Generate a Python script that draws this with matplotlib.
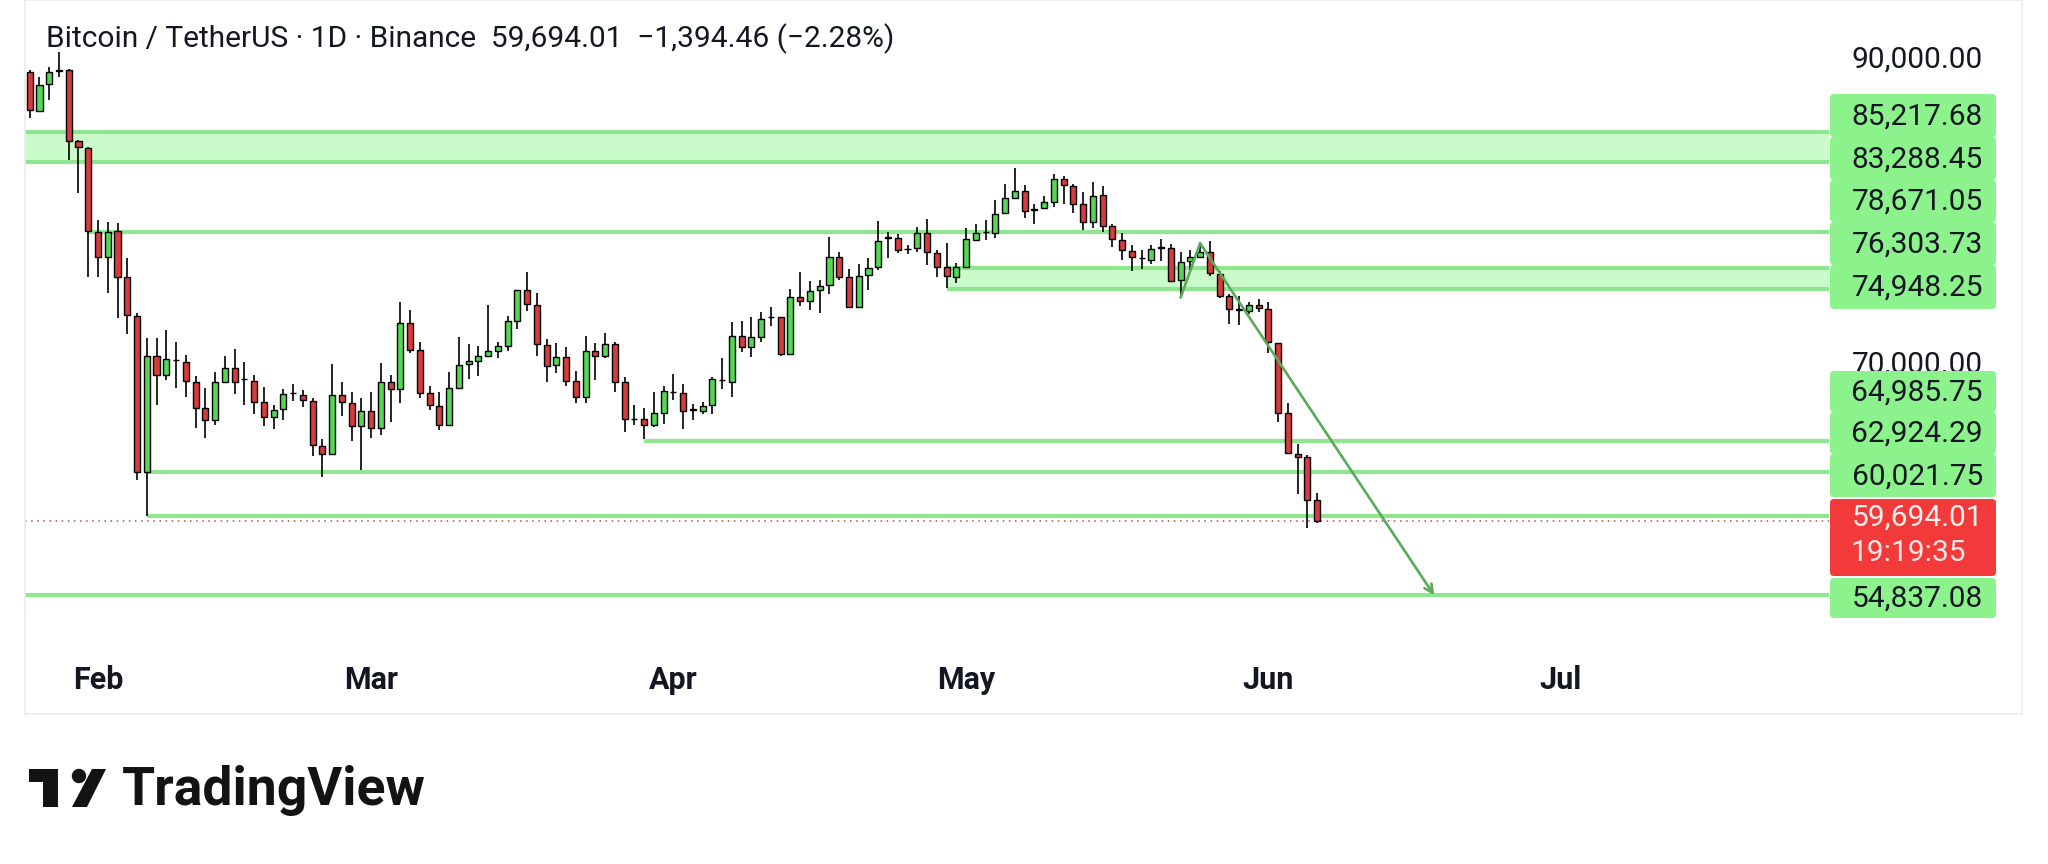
import matplotlib
matplotlib.use('Agg')
import matplotlib.pyplot as plt
from matplotlib.patches import FancyBboxPatch, Rectangle, Circle, Polygon
import matplotlib.transforms as mtransforms
import numpy as np
import pandas as pd

plt.rcParams['font.family'] = ['Roboto', 'DejaVu Sans']

# ---------------- data ----------------
start_date = '2026-01-25'
opens = [89195, 86615, 88364, 89305, 89305, 84647, 84209, 78698, 77014, 78741,
         75745, 73165, 62951, 70540, 69294, 70300, 70125, 68856, 67107, 66342,
         68856, 69775, 69050, 68902, 67503, 66518, 67043, 68093, 67984, 67612,
         64638, 64091, 67984, 67481, 65950, 66956, 65797, 68859, 68377, 72686,
         70936, 68093, 67284, 66016, 68465, 70017, 70236, 70564, 70892, 71198,
         72839, 74872, 73888, 71242, 69952, 70498, 68924, 67874, 70892, 70564,
         71308, 68815, 66420, 66387, 65993, 66824, 68202, 68092, 67000, 66955,
         67327, 68967, 68858, 71876, 71110, 71810, 73100, 73078, 70673, 74391,
         74150, 74872, 75200, 77015, 75703, 73779, 75856, 76403, 78300, 78261,
         77560, 77605, 78589, 77321, 76359, 75747, 76359, 78152, 78680, 78633,
         79902, 80930, 81389, 80150, 80230, 80667, 82154, 81717, 80492, 79355,
         81104, 79071, 78152, 77452, 76960, 76840, 77650, 77649, 75528, 76774,
         77059, 77343, 75921, 74500, 73600, 73494, 73888, 73625, 71416, 66780,
         64112, 63893, 61088.47]
highs = [89300, 88867, 89524, 90486, 89350, 84700, 84250, 79463, 79354, 79245,
         76992, 73340, 71700, 71700, 72246, 71437, 70606, 69250, 68419, 69513,
         70540, 70978, 70171, 69296, 68487, 67328, 68377, 68684, 68312, 67765,
         65075, 69996, 68859, 68203, 67765, 68203, 70105, 69296, 74064, 73561,
         71483, 68574, 68203, 69515, 71811, 71330, 71199, 73888, 71483, 73167,
         74900, 76032, 74654, 71636, 71373, 71111, 69580, 71855, 71373, 72030,
         71439, 69186, 67327, 67109, 68202, 68574, 69361, 68683, 67392, 67545,
         69186, 70389, 72795, 72838, 73122, 73451, 73779, 73078, 74916, 76075,
         75463, 75528, 78328, 77387, 76228, 76578, 76950, 79421, 78699, 78546,
         77824, 78983, 79508, 77496, 77933, 76621, 78917, 79202, 79464, 80776,
         81804, 82854, 81761, 80514, 81061, 82482, 82373, 81826, 81323, 81979,
         81695, 79202, 78589, 77824, 77496, 77824, 78196, 77868, 77387, 77496,
         77933, 78108, 76140, 74609, 74478, 74106, 74259, 74062, 71416, 67480,
         64769, 64047, 61575]
lows = [86134, 86571, 87336, 88867, 83400, 81213, 75745, 75745, 74651, 73012,
        71962, 62404, 60043, 67325, 68966, 68419, 67872, 65795, 65183, 66014,
        68800, 68026, 67328, 66737, 65950, 65731, 66344, 67612, 67218, 63981,
        62625, 64047, 66606, 64988, 63063, 65141, 65360, 66234, 67437, 70717,
        67809, 67000, 65687, 65950, 68400, 69012, 69230, 70455, 70389, 70892,
        72292, 73495, 70564, 68858, 69449, 68596, 67437, 67480, 68968, 70389,
        68202, 65578, 66015, 65075, 65906, 66059, 67655, 65731, 66343, 66736,
        66736, 68355, 67830, 70782, 70498, 71482, 72532, 70564, 70608, 73822,
        73560, 73341, 74588, 75528, 73779, 73779, 74872, 76184, 76949, 77321,
        77233, 77387, 76512, 75703, 74981, 75353, 76359, 78109, 78152, 78261,
        79858, 80820, 79574, 79202, 80186, 80339, 80492, 79902, 78808, 78961,
        78699, 77671, 76840, 76140, 76227, 76578, 76796, 75374, 74369, 76140,
        76949, 75790, 74325, 72641, 72575, 73297, 73450, 70760, 66233, 64155,
        61465, 59235, 59600]
closes = [86680, 88321, 89195, 89250, 84647, 84275, 78763, 77014, 78698, 75745,
          73231, 62951, 70540, 69294, 70322, 70250, 68900, 67150, 66342, 68856,
          69775, 68856, 69000, 67547, 66518, 67000, 68027, 68100, 67656, 64703,
          64091, 67984, 67547, 65950, 66956, 65797, 68859, 68377, 72686, 70936,
          68093, 67328, 66016, 68465, 69952, 70214, 70542, 70892, 71198, 72839,
          74872, 73932, 71308, 69908, 70498, 68924, 67874, 70892, 70564, 71308,
          68815, 66409, 66400, 65993, 66824, 68268, 68150, 66955, 67043, 67283,
          69033, 68990, 71876, 71110, 71766, 72948, 73122, 70673, 74391, 74150,
          74828, 75156, 77015, 75703, 73779, 75791, 76337, 78109, 78327, 77496,
          77540, 78589, 77387, 76359, 75790, 76359, 78196, 78633, 78699, 79836,
          80886, 81389, 80055, 80164, 80667, 82154, 81761, 80514, 79355, 81061,
          79071, 78196, 77496, 77015, 76949, 77562, 77671, 75484, 76730, 77059,
          77343, 75965, 74500, 73625, 73559, 73888, 73712, 71438, 66780, 64155,
          63937, 61088.47, 59694.01]

levels = [85217.68, 83288.45, 78671.05, 76303.73, 74948.25,
          64985.75, 62924.29, 60021.75, 54837.08]
level_start = [None, None, '2026-01-31', '2026-04-29', '2026-04-29',
               '2026-03-29', '2026-02-06', '2026-02-06', None]
bands = [(0, 1), (3, 4)]

last_price = 59694.01
change = -1394.46
change_pct = -2.28
countdown = '19:19:35'
axis_ticks = [90000, 70000]

arrow_dates = ['2026-05-23', '2026-05-25', '2026-06-18']
arrow_prices = [74369, 77933, 54837.08]

month_starts = pd.date_range('2026-02-01', '2026-07-01', freq='MS')

# ---------------- helpers ----------------
W, H, DPI = 2048, 864, 100
t0 = pd.Timestamp(start_date)


def didx(d):
    return (pd.Timestamp(d) - t0).days


GREEN_C = '#55d655'
RED_C = '#d63c3c'
LINE_G = '#8fe68f'
BAND_F = '#cafbca'
BOX_G = '#8cf38c'
BOX_R = '#f23a3a'
ARROW_G = '#5aaa5a'
TXT = '#131722'

fig = plt.figure(figsize=(W / DPI, H / DPI), dpi=DPI)
fig.patch.set_facecolor('white')

# chart pane: pixel x 25..2022, y 0..714
ax = fig.add_axes([25 / W, (H - 714) / H, (2022 - 25) / W, 714 / H])
x_left, x_right = -0.485, 204.27
ax.set_xlim(x_left, x_right)
ax.set_ylim(47048, 93899)
ax.set_xticks([])
ax.set_yticks([])
for s in ax.spines.values():
    s.set_color('#ebebeb')
    s.set_linewidth(1.2)

line_end = 184.48  # where lines meet the price scale

# bands
for a, b in bands:
    xs = x_left if level_start[a] is None else didx(level_start[a])
    ax.fill_between([xs, line_end], levels[b], levels[a], color=BAND_F, lw=0, zorder=1)

# level lines
for v, st in zip(levels, level_start):
    xs = x_left if st is None else didx(st)
    ax.hlines(v, xs, line_end, color=LINE_G, lw=3.0, zorder=2)

# current price dotted line
ax.hlines(last_price, x_left, line_end, colors='#b8503f', linestyles=(0, (1, 3)), lw=1.1, zorder=2.5)

# candles
o = np.array(opens, float)
h = np.array(highs, float)
l = np.array(lows, float)
c = np.array(closes, float)
x = np.arange(len(o))
cols = np.where(c >= o, GREEN_C, RED_C)
ax.vlines(x, l, h, color='black', lw=1.2, zorder=3)
ax.bar(x, np.abs(c - o), bottom=np.minimum(o, c), width=0.62, color=cols,
       edgecolor='black', linewidth=1.0, zorder=4)

# arrow
ax_x = [didx(d) for d in arrow_dates]
ax.plot(ax_x[:2], arrow_prices[:2], color=ARROW_G, lw=1.9, zorder=5, solid_capstyle='round')
ax.annotate('', xy=(ax_x[2], arrow_prices[2]), xytext=(ax_x[1], arrow_prices[1]),
            arrowprops=dict(arrowstyle='->,head_length=0.6,head_width=0.3', color=ARROW_G,
                            lw=1.9, shrinkA=0, shrinkB=0), zorder=5)

# month labels
tr_x = mtransforms.blended_transform_factory(ax.transData, ax.transAxes)
for ms in month_starts:
    ax.text(didx(ms), 1 - 680 / 714, ms.strftime('%b'), transform=tr_x, ha='center', va='center',
            fontsize=22, fontweight='bold', color=TXT)

# axis price ticks
tr_y = mtransforms.blended_transform_factory(ax.transAxes, ax.transData)
for tv in axis_ticks:
    ax.text((1983 - 25) / 1997, tv, f'{tv:,.2f}', transform=tr_y, ha='right', va='center',
            fontsize=21.5, color=TXT, zorder=6)

# ---------------- price label boxes (pixel layout) ----------------
ftr = fig.dpi_scale_trans


def pbox(x0, y0, x1, y1, color):
    p = FancyBboxPatch((x0 / DPI, (H - y1) / DPI), (x1 - x0) / DPI, (y1 - y0) / DPI,
                       boxstyle=f'round,pad=0,rounding_size={4 / DPI}', transform=ftr,
                       fc=color, ec='none', zorder=10)
    fig.patches.append(p)


def ptext(xp, yp, s, **kw):
    fig.text(xp / DPI, (H - yp) / DPI, s, transform=ftr, **kw)


box_rows = [(94, 137), (137, 180), (180, 222), (222, 265), (265, 309),
            (371, 412), (412, 454), (454, 497), (578, 618)]
for v, (y0, y1) in zip(levels, box_rows):
    pbox(1830, y0, 1996, y1, BOX_G)
    ptext(1983, (y0 + y1) / 2 + 1, f'{v:,.2f}', ha='right', va='center', fontsize=21.5, color=TXT, zorder=11)

pbox(1830, 499, 1996, 576, BOX_R)
ptext(1983, 518, f'{last_price:,.2f}', ha='right', va='center', fontsize=21.5, color='#fff0f0', zorder=11)
ptext(1851, 553, countdown, ha='left', va='center', fontsize=21.5, color='#ffe6e6', zorder=11)

# header
hdr = (f'Bitcoin / TetherUS · 1D · Binance  {last_price:,.2f}  '
       f'{change:,.2f} ({change_pct:.2f}%)').replace('-', '\u2212')
ptext(46, 39, hdr, ha='left', va='center', fontsize=21.5, color=TXT)

# ---------------- TradingView logo ----------------
def pxrect(x0, y0, x1, y1):
    return Rectangle((x0 / DPI, (H - y1) / DPI), (x1 - x0) / DPI, (y1 - y0) / DPI,
                     transform=ftr, fc='#131313', ec='none')


fig.patches.append(pxrect(29, 769, 58, 782))
fig.patches.append(pxrect(43, 782, 58, 807))
fig.patches.append(Circle((79 / DPI, (H - 776) / DPI), 7.2 / DPI, transform=ftr, fc='#131313', ec='none'))
fig.patches.append(Polygon([(92 / DPI, (H - 769) / DPI), (106 / DPI, (H - 769) / DPI),
                            (87 / DPI, (H - 807) / DPI), (72 / DPI, (H - 807) / DPI)],
                           closed=True, transform=ftr, fc='#131313', ec='none'))
ptext(122, 790, 'TradingView', ha='left', va='center', fontsize=38.5, fontweight='bold', color='#131313')

fig.savefig('out.png', dpi=DPI, facecolor='white')
